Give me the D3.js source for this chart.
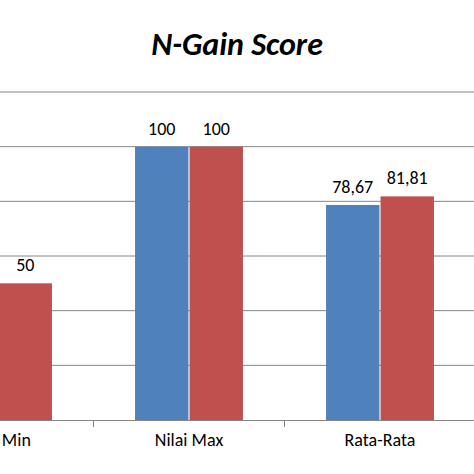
<!DOCTYPE html>
<html><head><meta charset="utf-8">
<script src="https://cdn.jsdelivr.net/npm/d3@7"></script>
<style>body{margin:0;background:#fff}</style></head>
<body><svg id="c" width="474" height="474"></svg>
<script>
const categories = ["Nilai Min", "Nilai Max", "Rata-Rata"];
const seriesA = [20, 100, 78.67];
const seriesB = [50, 100, 81.81];
const labelsA = ["20", "100", "78,67"];
const labelsB = ["50", "100", "81,81"];
const yTicks = [0, 20, 40, 60, 80, 100, 120];

const svg = d3.select("#c");
const font = "Carlito, Calibri, Lato, 'Open Sans', sans-serif";
const y = d3.scaleLinear().domain([0, 120]).range([420, 92]);
const x = d3.scaleBand().domain(categories).range([-97.5, 475.5]).paddingInner(0.435).paddingOuter(0.2175);
const xs = d3.scaleBand().domain([0, 1]).range([0, x.bandwidth()]).paddingInner(0.02);

svg.append("text").attr("x", 237).attr("y", 55).attr("text-anchor", "middle")
  .attr("font-family", font).attr("font-weight", "bold").attr("font-style", "italic")
  .attr("font-size", 32).attr("fill", "#000").text("N-Gain Score");

svg.selectAll("line.g").data(yTicks.slice(1)).join("line")
  .attr("x1", -100).attr("x2", 480).attr("y1", d => y(d)).attr("y2", d => y(d))
  .attr("stroke", "#868686").attr("stroke-width", 1);

const series = [{v: seriesA, l: labelsA, c: "#4F81BD"}, {v: seriesB, l: labelsB, c: "#C0504D"}];
series.forEach((s, i) => {
  svg.selectAll(null).data(categories).join("rect")
    .attr("x", (d) => x(d) + xs(i)).attr("width", xs.bandwidth())
    .attr("y", (d, j) => y(s.v[j])).attr("height", (d, j) => y(0) - y(s.v[j]))
    .attr("fill", s.c);
  svg.selectAll(null).data(categories).join("text")
    .attr("x", d => x(d) + xs(i) + xs.bandwidth() / 2)
    .attr("y", (d, j) => y(s.v[j]) - 12)
    .attr("text-anchor", "middle").attr("font-family", font).attr("font-size", 18)
    .text((d, j) => s.l[j]);
});

const ax = svg.append("g").attr("transform", "translate(0,420)")
  .call(d3.axisBottom(x).tickSize(0).tickPadding(13));
ax.select(".domain").attr("stroke", "#868686");
ax.selectAll("text").attr("font-family", font).attr("font-size", 18).attr("fill", "#000");
const bounds = [x(categories[1]) - (x.step() - x.bandwidth()) / 2, x(categories[2]) - (x.step() - x.bandwidth()) / 2];
svg.selectAll("line.t").data(bounds).join("line")
  .attr("x1", d => d).attr("x2", d => d).attr("y1", 420).attr("y2", 427)
  .attr("stroke", "#868686");
</script></body></html>
